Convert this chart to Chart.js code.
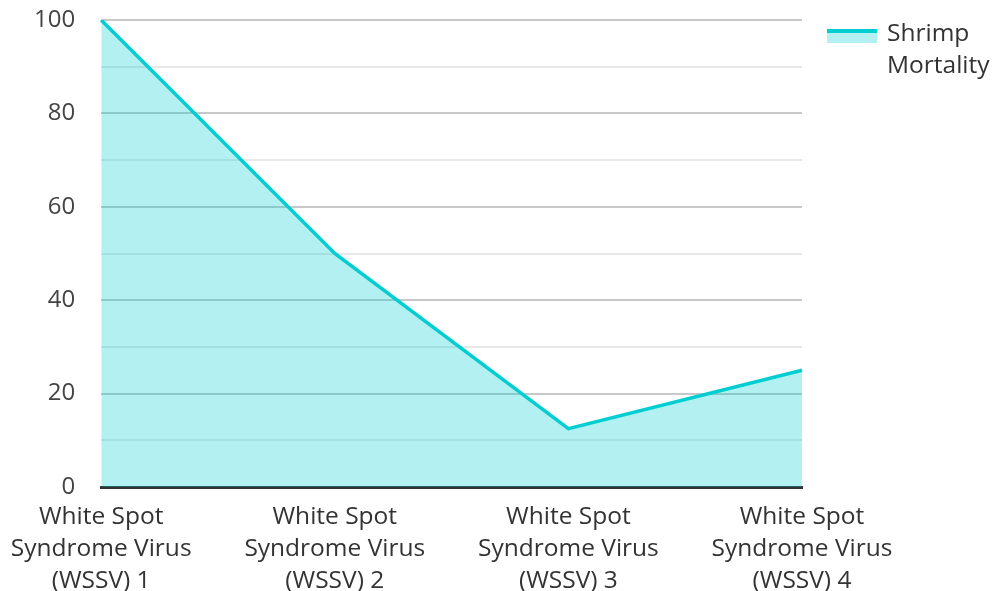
<!DOCTYPE html>
<html>
<head>
<meta charset="utf-8">
<script src="https://cdn.jsdelivr.net/npm/chart.js@4/dist/chart.umd.min.js"></script>
<style>
  html, body { margin: 0; padding: 0; background: #fff; }
  #wrap { position: relative; width: 994px; height: 591px; }
  #legend { position: absolute; left: 827px; top: 16px; display: flex; align-items: flex-start;
            font-family: "Open Sans", sans-serif; font-size: 24.5px; color: #333; line-height: 32px; }
  #legend .swatch { width: 50px; height: 14px; margin-top: 13px; margin-right: 10px;
                    background: rgba(0,206,209,0.3); border-top: 4px solid #00CED1; box-sizing: border-box; }
</style>
</head>
<body>
<div id="wrap">
  <canvas id="c" width="994" height="591"></canvas>
  <div id="legend"><div class="swatch"></div><div>Shrimp<br>Mortality</div></div>
</div>
<script>
const categories = [
  ["White Spot", "Syndrome Virus", "(WSSV) 1"],
  ["White Spot", "Syndrome Virus", "(WSSV) 2"],
  ["White Spot", "Syndrome Virus", "(WSSV) 3"],
  ["White Spot", "Syndrome Virus", "(WSSV) 4"]
];
const seriesName = "Shrimp Mortality";
const mortality = [100, 50, 12.5, 25];
const yTicks = [0, 20, 40, 60, 80, 100];

new Chart(document.getElementById("c"), {
  type: "line",
  data: {
    labels: categories,
    datasets: [{
      label: seriesName,
      data: mortality,
      borderColor: "#00CED1",
      backgroundColor: "rgba(0,206,209,0.3)",
      borderWidth: 3.5,
      fill: "origin",
      pointRadius: 0,
      tension: 0
    }]
  },
  options: {
    responsive: false,
    animation: false,
    layout: { padding: { top: 20, right: 192, left: 8, bottom: 0 } },
    plugins: { legend: { display: false }, tooltip: { enabled: false } },
    scales: {
      x: {
        offset: false,
        grid: { display: false, drawTicks: false },
        border: { display: true, color: "#333", width: 3 },
        afterFit: s => { s.height = 104; s.paddingLeft = 0; s.paddingRight = 0; },
        ticks: {
          maxRotation: 0, autoSkip: false, padding: 14,
          color: "#333",
          font: { family: "Open Sans", size: 24.5, lineHeight: 1.3 }
        }
      },
      y: {
        min: 0, max: 100,
        grid: {
          color: ctx => (ctx.tick && ctx.tick.value % 20 === 0) ? "#c8c8c8" : "#e8e8e8",
          lineWidth: 2,
          drawTicks: false
        },
        border: { display: false },
        afterFit: s => { s.paddingTop = 0; s.paddingBottom = 0; },
        ticks: {
          stepSize: 10, padding: 26,
          color: "#444",
          font: { family: "Open Sans", size: 24 },
          callback: v => yTicks.includes(v) ? String(v) : ""
        }
      }
    }
  }
});
</script>
</body>
</html>
